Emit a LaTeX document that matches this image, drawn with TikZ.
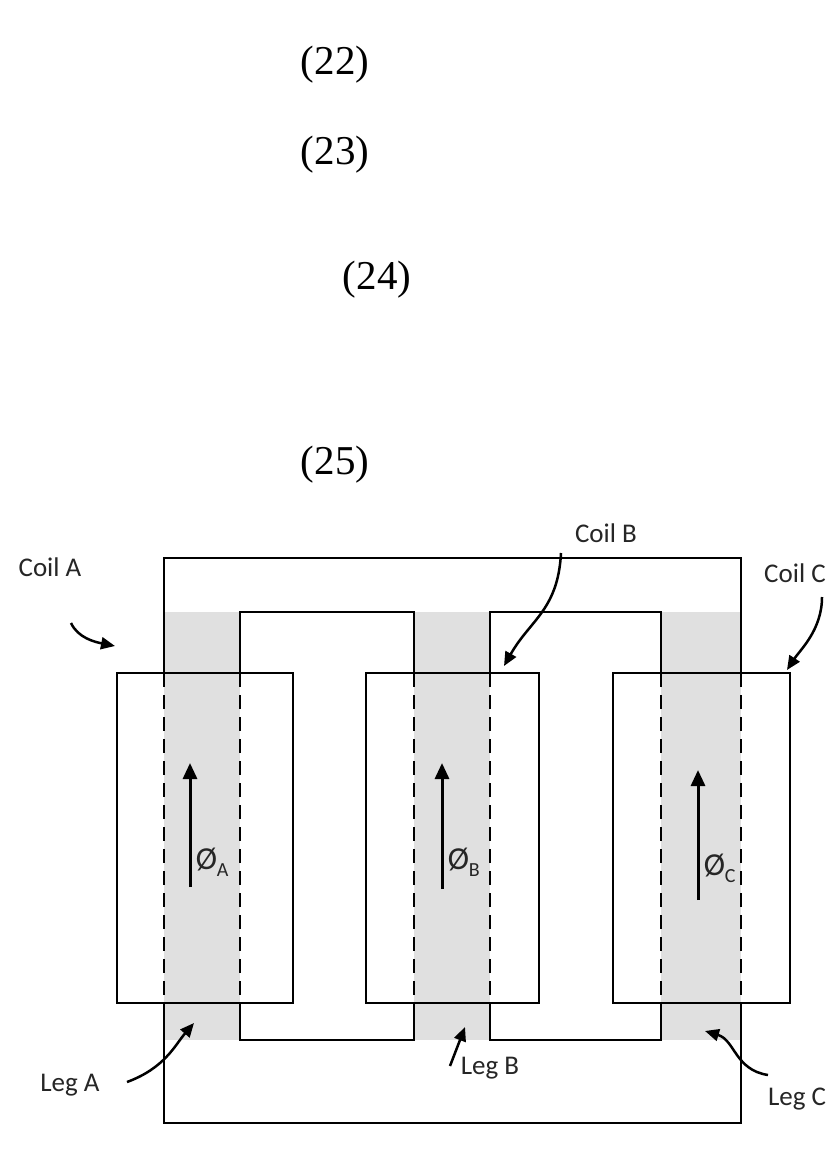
\documentclass[tikz,border=0pt]{standalone}
\usetikzlibrary{arrows.meta}
\usepackage{fontspec}
\setmainfont{Liberation Serif}
\newfontfamily\lab{Carlito}
\begin{document}
\begin{tikzpicture}[x=1pt,y=-1pt,line width=1.5pt,
  eq/.style={font=\fontsize{41}{44}\selectfont,inner sep=0},
  lbl/.style={font=\lab\fontsize{27}{30}\selectfont,text=black!85,inner sep=0},
  flx/.style={font=\lab\fontsize{32}{34}\selectfont,text=black!85,inner sep=0}]
\useasboundingbox (0,0) rectangle (839,1151);
\fill[white] (0,0) rectangle (839,1151);
% shading of legs
\foreach \a/\b in {164/240,414/490,661/741}{\fill[black!12] (\a,612) rectangle (\b,1040);}
% core
\draw (164,612) -- (164,558) -- (741,558) -- (741,612);
\draw (164,1040) -- (164,1123) -- (741,1123) -- (741,1040);
\draw (240,673) -- (240,612) -- (414,612) -- (414,673);
\draw (490,673) -- (490,612) -- (661,612) -- (661,673);
\draw (240,1003) -- (240,1040) -- (414,1040) -- (414,1003);
\draw (490,1003) -- (490,1040) -- (661,1040) -- (661,1003);
\draw (164,1003)--(164,1040); \draw (741,1003)--(741,1040);
\draw (164,612)--(164,673); \draw (741,612)--(741,673);
% coils
\draw (117,673) rectangle (293,1003);
\draw (366,673) rectangle (539,1003);
\draw (613,673) rectangle (790,1003);
\foreach \x in {164,240,414,490,661,741}{\draw[dash pattern=on 14pt off 8pt] (\x,673) -- (\x,1003);}
% flux arrows
\coordinate (a0) at (190,887); \coordinate (a1) at (190,763);
\coordinate (b0) at (442,889); \coordinate (b1) at (442,763);
\coordinate (c0) at (698,900); \coordinate (c1) at (698,770);
\tikzset{fx/.style={-{Triangle[length=16pt,width=14pt]},line width=3pt}}
\draw[fx] (a0)--(a1);
\draw[fx] (b0)--(b1);
\draw[fx] (c0)--(c1);
\node[flx,anchor=west] (fa) at (195,862) {Ø\raisebox{-7pt}{\fontsize{20}{22}\selectfont A}};
\node[flx,anchor=west] (fb) at (447,862) {Ø\raisebox{-7pt}{\fontsize{20}{22}\selectfont B}};
\node[flx,anchor=west] (fc) at (703,868) {Ø\raisebox{-7pt}{\fontsize{20}{22}\selectfont C}};
% equation numbers
\node[eq] (e22) at (335,65) {(22)};
\node[eq] (e23) at (335,155) {(23)};
\node[eq] (e24) at (377,280) {(24)};
\node[eq] (e25) at (335,465) {(25)};
% labels
\node[lbl] (ca) at (50,567) {Coil A};
\node[lbl] (cb) at (606,533) {Coil B};
\node[lbl] (cc) at (795,573) {Coil C};
\node[lbl] (la) at (70,1085) {Leg A};
\node[lbl] (lb) at (490,1068) {Leg B};
\node[lbl] (lc) at (797,1099) {Leg C};
\tikzset{ca/.style={line width=2.5pt,-{Triangle[length=14pt,width=12pt]}}}
\coordinate (pa) at (115,646); \coordinate (pb) at (504,666); \coordinate (pc) at (787,670);
\coordinate (qa) at (194,1023); \coordinate (qb) at (465,1027); \coordinate (qc) at (705,1031);
\draw[ca] (71,623) .. controls (78,638) and (95,642) .. (pa);
\draw[ca] (561,553) .. controls (558,610) and (530,620) .. (pb);
\draw[ca] (822,597) .. controls (822,630) and (800,650) .. (pc);
\draw[ca] (127,1082) .. controls (165,1068) and (175,1045) .. (qa);
\draw[ca] (450,1066) -- (qb);
\draw[ca] (768,1075) .. controls (735,1070) and (735,1040) .. (qc);
\end{tikzpicture}
\end{document}
